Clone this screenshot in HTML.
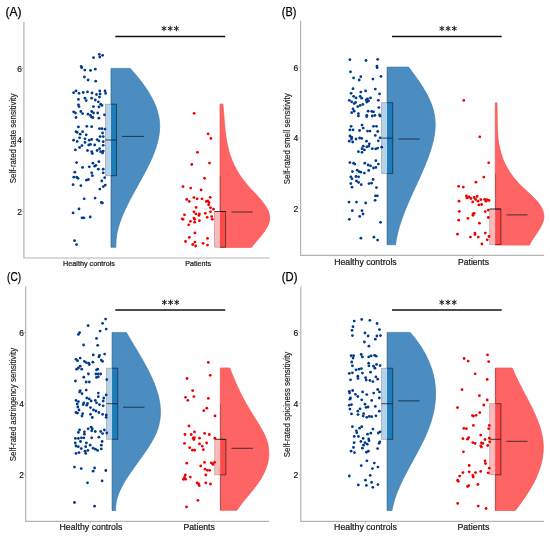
<!DOCTYPE html>
<html><head><meta charset="utf-8"><style>
html,body{margin:0;padding:0;background:#fff;}
svg{display:block;font-family:"Liberation Sans", sans-serif;will-change:transform;}
#wrap{width:550px;height:538px;}
</style></head><body>
<div id="wrap"><svg width="550" height="538" viewBox="0 0 550 538">
<rect width="550" height="538" fill="#fff"/>
<path d="M23.9,22 V258 H269.3" fill="none" stroke="#b4b4b4" stroke-width="1.2"/>
<line x1="21.9" y1="211.5" x2="23.9" y2="211.5" stroke="#b4b4b4" stroke-width="0.8"/>
<text x="21.9" y="214.7" font-size="8.4" text-anchor="end" fill="#1a1a1a" stroke="#1a1a1a" stroke-width="0.2">2</text>
<line x1="21.9" y1="140" x2="23.9" y2="140" stroke="#b4b4b4" stroke-width="0.8"/>
<text x="21.9" y="143.2" font-size="8.4" text-anchor="end" fill="#1a1a1a" stroke="#1a1a1a" stroke-width="0.2">4</text>
<line x1="21.9" y1="68.5" x2="23.9" y2="68.5" stroke="#b4b4b4" stroke-width="0.8"/>
<text x="21.9" y="71.7" font-size="8.4" text-anchor="end" fill="#1a1a1a" stroke="#1a1a1a" stroke-width="0.2">6</text>
<line x1="89" y1="258" x2="89" y2="260" stroke="#b4b4b4" stroke-width="0.8"/>
<line x1="198.3" y1="258" x2="198.3" y2="260" stroke="#b4b4b4" stroke-width="0.8"/>
<text transform="translate(16.2,138.4) rotate(-90)" font-size="8.5" text-anchor="middle" textLength="89.6" lengthAdjust="spacingAndGlyphs" fill="#1a1a1a" stroke="#1a1a1a" stroke-width="0.15">Self-rated taste sensitivity</text>
<text x="63.1" y="266" font-size="7.2" textLength="51.8" lengthAdjust="spacingAndGlyphs" fill="#1a1a1a" stroke="#1a1a1a" stroke-width="0.22">Healthy controls</text>
<text x="185.3" y="266" font-size="7.2" textLength="25.7" lengthAdjust="spacingAndGlyphs" fill="#1a1a1a" stroke="#1a1a1a" stroke-width="0.22">Patients</text>
<text x="5.5" y="16.1" font-size="12" textLength="16" lengthAdjust="spacingAndGlyphs" fill="#000" stroke="#000" stroke-width="0.25">(A)</text>
<line x1="115.3" y1="36.5" x2="225.2" y2="36.5" stroke="#111" stroke-width="1.5"/>
<path d="M164,26.2 L164,30.8 M166,27.4 L162,29.6 M162,27.4 L166,29.6 " stroke="#1a1a1a" stroke-width="1.0" stroke-linecap="round"/>
<path d="M170.2,26.2 L170.2,30.8 M172.2,27.4 L168.2,29.6 M168.2,27.4 L172.2,29.6 " stroke="#1a1a1a" stroke-width="1.0" stroke-linecap="round"/>
<path d="M176.4,26.2 L176.4,30.8 M178.4,27.4 L174.4,29.6 M174.4,27.4 L178.4,29.6 " stroke="#1a1a1a" stroke-width="1.0" stroke-linecap="round"/>
<path d="M111,68.4 L130.3,68.4 L131.6,69.9 L132.9,71.4 L134.3,72.9 L135.5,74.5 L136.8,76 L138,77.5 L139.3,79 L140.4,80.5 L141.6,82 L142.7,83.6 L143.8,85.1 L144.9,86.6 L145.9,88.1 L146.9,89.6 L147.9,91.1 L148.9,92.7 L149.8,94.2 L150.6,95.7 L151.5,97.2 L152.3,98.7 L153.1,100.2 L153.8,101.8 L154.5,103.3 L155.1,104.8 L155.7,106.3 L156.3,107.8 L156.8,109.3 L157.3,110.9 L157.7,112.4 L158.1,113.9 L158.5,115.4 L158.8,116.9 L159.1,118.4 L159.3,119.9 L159.4,121.5 L159.6,123 L159.6,124.5 L159.7,126 L159.6,127.5 L159.6,129 L159.5,130.6 L159.4,132.1 L159.2,133.6 L159,135.1 L158.7,136.6 L158.4,138.1 L158.1,139.7 L157.8,141.2 L157.4,142.7 L157,144.2 L156.5,145.7 L156.1,147.2 L155.6,148.8 L155,150.3 L154.5,151.8 L153.9,153.3 L153.3,154.8 L152.7,156.3 L152,157.9 L151.4,159.4 L150.7,160.9 L150,162.4 L149.3,163.9 L148.5,165.4 L147.8,166.9 L147,168.5 L146.2,170 L145.4,171.5 L144.6,173 L143.8,174.5 L143,176 L142.2,177.6 L141.4,179.1 L140.5,180.6 L139.7,182.1 L138.8,183.6 L138,185.1 L137.1,186.7 L136.3,188.2 L135.5,189.7 L134.6,191.2 L133.8,192.7 L133,194.2 L132.1,195.8 L131.3,197.3 L130.5,198.8 L129.7,200.3 L128.9,201.8 L128.2,203.3 L127.4,204.8 L126.7,206.4 L125.9,207.9 L125.2,209.4 L124.5,210.9 L123.8,212.4 L123.2,213.9 L122.5,215.5 L121.9,217 L121.3,218.5 L120.8,220 L120.2,221.5 L119.7,223 L119.2,224.6 L118.8,226.1 L118.3,227.6 L117.9,229.1 L117.6,230.6 L117.2,232.1 L116.9,233.7 L116.7,235.2 L116.5,236.7 L116.3,238.2 L116.1,239.7 L116,241.2 L116,242.8 L115.9,244.3 L115.9,245.8 L116,247.3 L111,247.3 Z" fill="#4b8cc1" stroke="#3b7fb3" stroke-width="0.7" stroke-linejoin="round"/>
<path d="M220,104.1 L222.8,104.1 L223,105.6 L223.1,107.1 L223.3,108.7 L223.4,110.2 L223.5,111.7 L223.7,113.2 L223.8,114.8 L223.9,116.3 L224,117.8 L224.2,119.3 L224.3,120.9 L224.4,122.4 L224.6,123.9 L224.7,125.4 L224.8,127 L225,128.5 L225.1,130 L225.3,131.5 L225.5,133.1 L225.7,134.6 L225.9,136.1 L226.1,137.6 L226.4,139.2 L226.6,140.7 L226.9,142.2 L227.2,143.7 L227.5,145.3 L227.8,146.8 L228.2,148.3 L228.6,149.8 L229,151.4 L229.5,152.9 L229.9,154.4 L230.4,155.9 L231,157.5 L231.5,159 L232.1,160.5 L232.8,162 L233.4,163.6 L234.1,165.1 L234.9,166.6 L235.7,168.1 L236.5,169.7 L237.4,171.2 L238.3,172.7 L239.2,174.2 L240.3,175.8 L241.3,177.3 L242.4,178.8 L243.6,180.3 L244.8,181.8 L246,183.4 L247.3,184.9 L248.7,186.4 L250,187.9 L251.4,189.5 L252.8,191 L254.3,192.5 L255.7,194 L257.1,195.6 L258.4,197.1 L259.8,198.6 L261.1,200.1 L262.3,201.7 L263.5,203.2 L264.6,204.7 L265.6,206.2 L266.5,207.8 L267.4,209.3 L268.1,210.8 L268.7,212.3 L269.2,213.9 L269.5,215.4 L269.7,216.9 L269.7,218.4 L269.6,220 L269.3,221.5 L268.9,223 L268.3,224.5 L267.6,226.1 L266.8,227.6 L265.9,229.1 L265,230.6 L263.9,232.2 L262.7,233.7 L261.6,235.2 L260.3,236.7 L259,238.3 L257.7,239.8 L256.4,241.3 L255.1,242.8 L253.8,244.4 L252.5,245.9 L251.3,247.4 L220,247.4 Z" fill="#ff6464" stroke="#f85050" stroke-width="0.7" stroke-linejoin="round"/>
<line x1="111.3" y1="68.5" x2="111.3" y2="104.2" stroke="rgba(40,40,40,0.22)" stroke-width="0.7"/>
<line x1="111.3" y1="175.7" x2="111.3" y2="247.2" stroke="rgba(40,40,40,0.22)" stroke-width="0.7"/>
<rect x="105.4" y="104.2" width="5.6" height="71.5" fill="#b7d1e8"/>
<rect x="111" y="104.2" width="5.6" height="71.5" fill="#1c7dbc"/>
<rect x="105.4" y="104.2" width="11.2" height="71.5" fill="none" stroke="rgba(60,60,60,0.35)" stroke-width="0.8"/>
<path d="M111,104.2 H116.6 V175.7 H111" fill="none" stroke="rgba(25,25,25,0.6)" stroke-width="0.8"/>
<line x1="105.4" y1="140" x2="116.6" y2="140" stroke="rgba(20,20,20,0.85)" stroke-width="0.9"/>
<line x1="220.3" y1="175.7" x2="220.3" y2="211.5" stroke="rgba(40,40,40,0.5)" stroke-width="0.7"/>
<rect x="214.4" y="211.5" width="5.6" height="35.7" fill="#ffb9b9"/>
<rect x="220" y="211.5" width="5.6" height="35.7" fill="#ff4a4c"/>
<rect x="214.4" y="211.5" width="11.2" height="35.7" fill="none" stroke="rgba(60,60,60,0.35)" stroke-width="0.8"/>
<path d="M220,211.5 H225.6 V247.2 H220" fill="none" stroke="rgba(25,25,25,0.6)" stroke-width="0.8"/>
<line x1="214.4" y1="211.5" x2="225.6" y2="211.5" stroke="rgba(20,20,20,0.85)" stroke-width="0.9"/>
<line x1="122" y1="136.4" x2="144" y2="136.4" stroke="rgba(15,20,30,0.72)" stroke-width="1"/>
<line x1="231.5" y1="212" x2="252.7" y2="212" stroke="rgba(15,20,30,0.72)" stroke-width="1"/>
<circle cx="93.5" cy="57.7" r="1.4" fill="#003a8c"/>
<circle cx="99.3" cy="54.4" r="1.4" fill="#003a8c"/>
<circle cx="99.8" cy="57.1" r="1.4" fill="#003a8c"/>
<circle cx="102.6" cy="55.3" r="1.4" fill="#003a8c"/>
<circle cx="81.2" cy="66.5" r="1.4" fill="#003a8c"/>
<circle cx="81.7" cy="67.7" r="1.4" fill="#003a8c"/>
<circle cx="84.8" cy="70.1" r="1.4" fill="#003a8c"/>
<circle cx="90.5" cy="70.4" r="1.4" fill="#003a8c"/>
<circle cx="95.3" cy="69.2" r="1.4" fill="#003a8c"/>
<circle cx="84.4" cy="77" r="1.4" fill="#003a8c"/>
<circle cx="88.1" cy="80" r="1.4" fill="#003a8c"/>
<circle cx="95.7" cy="81.2" r="1.4" fill="#003a8c"/>
<circle cx="73.6" cy="92.7" r="1.4" fill="#003a8c"/>
<circle cx="76" cy="90.9" r="1.4" fill="#003a8c"/>
<circle cx="79" cy="93.3" r="1.4" fill="#003a8c"/>
<circle cx="83.2" cy="92.5" r="1.4" fill="#003a8c"/>
<circle cx="87.5" cy="91.9" r="1.4" fill="#003a8c"/>
<circle cx="92" cy="93" r="1.4" fill="#003a8c"/>
<circle cx="96.5" cy="94.5" r="1.4" fill="#003a8c"/>
<circle cx="99.8" cy="90.9" r="1.4" fill="#003a8c"/>
<circle cx="100.1" cy="93.9" r="1.4" fill="#003a8c"/>
<circle cx="99.5" cy="97" r="1.4" fill="#003a8c"/>
<circle cx="105" cy="90.9" r="1.4" fill="#003a8c"/>
<circle cx="105.6" cy="93.3" r="1.4" fill="#003a8c"/>
<circle cx="78.4" cy="99.4" r="1.4" fill="#003a8c"/>
<circle cx="85" cy="98.2" r="1.4" fill="#003a8c"/>
<circle cx="86.2" cy="100.6" r="1.4" fill="#003a8c"/>
<circle cx="91.7" cy="98.2" r="1.4" fill="#003a8c"/>
<circle cx="95.3" cy="100" r="1.4" fill="#003a8c"/>
<circle cx="98.3" cy="101.8" r="1.4" fill="#003a8c"/>
<circle cx="100.7" cy="104.2" r="1.4" fill="#003a8c"/>
<circle cx="78.4" cy="104.8" r="1.4" fill="#003a8c"/>
<circle cx="79" cy="106.6" r="1.4" fill="#003a8c"/>
<circle cx="93.5" cy="106.6" r="1.4" fill="#003a8c"/>
<circle cx="98.9" cy="106.9" r="1.4" fill="#003a8c"/>
<circle cx="102" cy="105.4" r="1.4" fill="#003a8c"/>
<circle cx="73.6" cy="111.8" r="1.4" fill="#003a8c"/>
<circle cx="75.4" cy="113" r="1.4" fill="#003a8c"/>
<circle cx="76" cy="117.5" r="1.4" fill="#003a8c"/>
<circle cx="80.8" cy="111.5" r="1.4" fill="#003a8c"/>
<circle cx="82.6" cy="113.6" r="1.4" fill="#003a8c"/>
<circle cx="88" cy="114.2" r="1.4" fill="#003a8c"/>
<circle cx="90.5" cy="115.4" r="1.4" fill="#003a8c"/>
<circle cx="91.7" cy="117.2" r="1.4" fill="#003a8c"/>
<circle cx="92.9" cy="117.5" r="1.4" fill="#003a8c"/>
<circle cx="91.7" cy="111.5" r="1.4" fill="#003a8c"/>
<circle cx="93.5" cy="113" r="1.4" fill="#003a8c"/>
<circle cx="97.7" cy="113" r="1.4" fill="#003a8c"/>
<circle cx="98.9" cy="118.2" r="1.4" fill="#003a8c"/>
<circle cx="104.4" cy="114.8" r="1.4" fill="#003a8c"/>
<circle cx="78.4" cy="126.9" r="1.4" fill="#003a8c"/>
<circle cx="86.8" cy="126.3" r="1.4" fill="#003a8c"/>
<circle cx="91.7" cy="126.7" r="1.4" fill="#003a8c"/>
<circle cx="99.5" cy="128.7" r="1.4" fill="#003a8c"/>
<circle cx="102" cy="128.7" r="1.4" fill="#003a8c"/>
<circle cx="105" cy="129.1" r="1.4" fill="#003a8c"/>
<circle cx="76" cy="131.7" r="1.4" fill="#003a8c"/>
<circle cx="77.2" cy="132.4" r="1.4" fill="#003a8c"/>
<circle cx="82.6" cy="131.7" r="1.4" fill="#003a8c"/>
<circle cx="80.2" cy="134.2" r="1.4" fill="#003a8c"/>
<circle cx="86.2" cy="134.8" r="1.4" fill="#003a8c"/>
<circle cx="79.6" cy="137.8" r="1.4" fill="#003a8c"/>
<circle cx="85" cy="138.8" r="1.4" fill="#003a8c"/>
<circle cx="102.6" cy="133" r="1.4" fill="#003a8c"/>
<circle cx="100.1" cy="136.6" r="1.4" fill="#003a8c"/>
<circle cx="103.2" cy="136.6" r="1.4" fill="#003a8c"/>
<circle cx="73.6" cy="140.2" r="1.4" fill="#003a8c"/>
<circle cx="77.2" cy="141.4" r="1.4" fill="#003a8c"/>
<circle cx="89.3" cy="140.2" r="1.4" fill="#003a8c"/>
<circle cx="91.7" cy="139.4" r="1.4" fill="#003a8c"/>
<circle cx="97.1" cy="139.6" r="1.4" fill="#003a8c"/>
<circle cx="98.9" cy="140.8" r="1.4" fill="#003a8c"/>
<circle cx="103.2" cy="141.7" r="1.4" fill="#003a8c"/>
<circle cx="85" cy="142.4" r="1.4" fill="#003a8c"/>
<circle cx="82" cy="145.6" r="1.4" fill="#003a8c"/>
<circle cx="79.6" cy="147.5" r="1.4" fill="#003a8c"/>
<circle cx="75.4" cy="149.9" r="1.4" fill="#003a8c"/>
<circle cx="88.7" cy="145" r="1.4" fill="#003a8c"/>
<circle cx="90.5" cy="144.4" r="1.4" fill="#003a8c"/>
<circle cx="94.7" cy="145" r="1.4" fill="#003a8c"/>
<circle cx="103.2" cy="145.3" r="1.4" fill="#003a8c"/>
<circle cx="87.5" cy="150.5" r="1.4" fill="#003a8c"/>
<circle cx="91.7" cy="151.7" r="1.4" fill="#003a8c"/>
<circle cx="92.3" cy="153.5" r="1.4" fill="#003a8c"/>
<circle cx="97.1" cy="150.5" r="1.4" fill="#003a8c"/>
<circle cx="99.5" cy="148.7" r="1.4" fill="#003a8c"/>
<circle cx="100.7" cy="151.7" r="1.4" fill="#003a8c"/>
<circle cx="102.6" cy="152.9" r="1.4" fill="#003a8c"/>
<circle cx="103.2" cy="151.1" r="1.4" fill="#003a8c"/>
<circle cx="76.6" cy="162.6" r="1.4" fill="#003a8c"/>
<circle cx="82.6" cy="167.4" r="1.4" fill="#003a8c"/>
<circle cx="89.3" cy="166.8" r="1.4" fill="#003a8c"/>
<circle cx="92.9" cy="163.2" r="1.4" fill="#003a8c"/>
<circle cx="94.7" cy="166.2" r="1.4" fill="#003a8c"/>
<circle cx="95.9" cy="165.3" r="1.4" fill="#003a8c"/>
<circle cx="98.9" cy="161.7" r="1.4" fill="#003a8c"/>
<circle cx="98.3" cy="169.2" r="1.4" fill="#003a8c"/>
<circle cx="103.2" cy="169.2" r="1.4" fill="#003a8c"/>
<circle cx="74.8" cy="172.2" r="1.4" fill="#003a8c"/>
<circle cx="91.7" cy="172.8" r="1.4" fill="#003a8c"/>
<circle cx="103.2" cy="172.8" r="1.4" fill="#003a8c"/>
<circle cx="73.8" cy="177.2" r="1.4" fill="#003a8c"/>
<circle cx="76.8" cy="177.2" r="1.4" fill="#003a8c"/>
<circle cx="78" cy="178.3" r="1.4" fill="#003a8c"/>
<circle cx="86.4" cy="180.2" r="1.4" fill="#003a8c"/>
<circle cx="88.4" cy="179.5" r="1.4" fill="#003a8c"/>
<circle cx="92.4" cy="175.7" r="1.4" fill="#003a8c"/>
<circle cx="101.8" cy="181" r="1.4" fill="#003a8c"/>
<circle cx="104.7" cy="177.7" r="1.4" fill="#003a8c"/>
<circle cx="73.1" cy="184.7" r="1.4" fill="#003a8c"/>
<circle cx="80.9" cy="185.7" r="1.4" fill="#003a8c"/>
<circle cx="99.8" cy="189.1" r="1.4" fill="#003a8c"/>
<circle cx="103.3" cy="186.6" r="1.4" fill="#003a8c"/>
<circle cx="105.3" cy="185.1" r="1.4" fill="#003a8c"/>
<circle cx="84.2" cy="198.8" r="1.4" fill="#003a8c"/>
<circle cx="95.1" cy="198.1" r="1.4" fill="#003a8c"/>
<circle cx="101.3" cy="202.5" r="1.4" fill="#003a8c"/>
<circle cx="102.4" cy="203" r="1.4" fill="#003a8c"/>
<circle cx="79" cy="208.9" r="1.4" fill="#003a8c"/>
<circle cx="73.1" cy="212.9" r="1.4" fill="#003a8c"/>
<circle cx="82" cy="217.8" r="1.4" fill="#003a8c"/>
<circle cx="83.9" cy="217.8" r="1.4" fill="#003a8c"/>
<circle cx="90.2" cy="217" r="1.4" fill="#003a8c"/>
<circle cx="74.5" cy="240.7" r="1.4" fill="#003a8c"/>
<circle cx="76.5" cy="244.6" r="1.4" fill="#003a8c"/>
<circle cx="194.2" cy="113.3" r="1.4" fill="#ee0000"/>
<circle cx="208.1" cy="133.8" r="1.4" fill="#ee0000"/>
<circle cx="210.9" cy="138.4" r="1.4" fill="#ee0000"/>
<circle cx="197.4" cy="152.3" r="1.4" fill="#ee0000"/>
<circle cx="191.8" cy="164.5" r="1.4" fill="#ee0000"/>
<circle cx="209.5" cy="163.1" r="1.4" fill="#ee0000"/>
<circle cx="204.6" cy="178.3" r="1.4" fill="#ee0000"/>
<circle cx="183" cy="186.6" r="1.4" fill="#ee0000"/>
<circle cx="190.7" cy="188.1" r="1.4" fill="#ee0000"/>
<circle cx="201.1" cy="189.9" r="1.4" fill="#ee0000"/>
<circle cx="186.7" cy="199.5" r="1.4" fill="#ee0000"/>
<circle cx="189.3" cy="201.4" r="1.4" fill="#ee0000"/>
<circle cx="193.9" cy="197.6" r="1.4" fill="#ee0000"/>
<circle cx="197.1" cy="198.8" r="1.4" fill="#ee0000"/>
<circle cx="202" cy="198.8" r="1.4" fill="#ee0000"/>
<circle cx="210.2" cy="197.3" r="1.4" fill="#ee0000"/>
<circle cx="206.3" cy="201.4" r="1.4" fill="#ee0000"/>
<circle cx="207.8" cy="201" r="1.4" fill="#ee0000"/>
<circle cx="209" cy="202.5" r="1.4" fill="#ee0000"/>
<circle cx="208.7" cy="204.7" r="1.4" fill="#ee0000"/>
<circle cx="210.5" cy="207.7" r="1.4" fill="#ee0000"/>
<circle cx="213.5" cy="209.2" r="1.4" fill="#ee0000"/>
<circle cx="196.1" cy="207.4" r="1.4" fill="#ee0000"/>
<circle cx="193.9" cy="211.8" r="1.4" fill="#ee0000"/>
<circle cx="195.9" cy="213.9" r="1.4" fill="#ee0000"/>
<circle cx="199.4" cy="213.9" r="1.4" fill="#ee0000"/>
<circle cx="198.9" cy="215.4" r="1.4" fill="#ee0000"/>
<circle cx="205.3" cy="213.3" r="1.4" fill="#ee0000"/>
<circle cx="210.5" cy="211.8" r="1.4" fill="#ee0000"/>
<circle cx="184.5" cy="214.8" r="1.4" fill="#ee0000"/>
<circle cx="182.3" cy="218.8" r="1.4" fill="#ee0000"/>
<circle cx="183" cy="219.3" r="1.4" fill="#ee0000"/>
<circle cx="193.9" cy="218.1" r="1.4" fill="#ee0000"/>
<circle cx="194.6" cy="219.3" r="1.4" fill="#ee0000"/>
<circle cx="207.2" cy="217.3" r="1.4" fill="#ee0000"/>
<circle cx="211.7" cy="216.6" r="1.4" fill="#ee0000"/>
<circle cx="212.3" cy="219.3" r="1.4" fill="#ee0000"/>
<circle cx="190.4" cy="221.3" r="1.4" fill="#ee0000"/>
<circle cx="194.6" cy="222.2" r="1.4" fill="#ee0000"/>
<circle cx="199.4" cy="220.7" r="1.4" fill="#ee0000"/>
<circle cx="188.7" cy="224.8" r="1.4" fill="#ee0000"/>
<circle cx="194.9" cy="232.9" r="1.4" fill="#ee0000"/>
<circle cx="189.3" cy="237.4" r="1.4" fill="#ee0000"/>
<circle cx="207.5" cy="238.4" r="1.4" fill="#ee0000"/>
<circle cx="185.5" cy="241.5" r="1.4" fill="#ee0000"/>
<circle cx="194.9" cy="242.1" r="1.4" fill="#ee0000"/>
<circle cx="192.7" cy="244.5" r="1.4" fill="#ee0000"/>
<circle cx="195.6" cy="246" r="1.4" fill="#ee0000"/>
<circle cx="203.1" cy="243.3" r="1.4" fill="#ee0000"/>
<circle cx="207.5" cy="245.1" r="1.4" fill="#ee0000"/>
<path d="M300.6,20.8 V255.3 H544.2" fill="none" stroke="#b4b4b4" stroke-width="1.2"/>
<line x1="298.6" y1="209" x2="300.6" y2="209" stroke="#b4b4b4" stroke-width="0.8"/>
<text x="298.4" y="212.3" font-size="8.6" text-anchor="end" fill="#1a1a1a" stroke="#1a1a1a" stroke-width="0.2">2</text>
<line x1="298.6" y1="138.1" x2="300.6" y2="138.1" stroke="#b4b4b4" stroke-width="0.8"/>
<text x="298.4" y="141.4" font-size="8.6" text-anchor="end" fill="#1a1a1a" stroke="#1a1a1a" stroke-width="0.2">4</text>
<line x1="298.6" y1="67.2" x2="300.6" y2="67.2" stroke="#b4b4b4" stroke-width="0.8"/>
<text x="298.4" y="70.5" font-size="8.6" text-anchor="end" fill="#1a1a1a" stroke="#1a1a1a" stroke-width="0.2">6</text>
<line x1="365.1" y1="255.3" x2="365.1" y2="257.3" stroke="#b4b4b4" stroke-width="0.8"/>
<line x1="473" y1="255.3" x2="473" y2="257.3" stroke="#b4b4b4" stroke-width="0.8"/>
<text transform="translate(290,138.8) rotate(-90)" font-size="8.5" text-anchor="middle" textLength="91" lengthAdjust="spacingAndGlyphs" fill="#1a1a1a" stroke="#1a1a1a" stroke-width="0.15">Self-rated smell sensitivity</text>
<text x="334.2" y="265.2" font-size="8.7" textLength="62.5" lengthAdjust="spacingAndGlyphs" fill="#1a1a1a" stroke="#1a1a1a" stroke-width="0.22">Healthy controls</text>
<text x="458" y="265.2" font-size="8.7" textLength="31" lengthAdjust="spacingAndGlyphs" fill="#1a1a1a" stroke="#1a1a1a" stroke-width="0.22">Patients</text>
<text x="281.8" y="16.1" font-size="12" textLength="14.5" lengthAdjust="spacingAndGlyphs" fill="#000" stroke="#000" stroke-width="0.25">(B)</text>
<line x1="392" y1="36.5" x2="501.7" y2="36.5" stroke="#111" stroke-width="1.5"/>
<path d="M441.9,26.2 L441.9,30.8 M443.9,27.4 L439.9,29.6 M439.9,27.4 L443.9,29.6 " stroke="#1a1a1a" stroke-width="1.0" stroke-linecap="round"/>
<path d="M448.1,26.2 L448.1,30.8 M450.1,27.4 L446.1,29.6 M446.1,27.4 L450.1,29.6 " stroke="#1a1a1a" stroke-width="1.0" stroke-linecap="round"/>
<path d="M454.3,26.2 L454.3,30.8 M456.3,27.4 L452.3,29.6 M452.3,27.4 L456.3,29.6 " stroke="#1a1a1a" stroke-width="1.0" stroke-linecap="round"/>
<path d="M387.1,67.1 L408.6,67.1 L409.7,68.6 L410.9,70.1 L412,71.7 L413.1,73.2 L414.3,74.7 L415.4,76.2 L416.5,77.7 L417.5,79.2 L418.6,80.8 L419.6,82.3 L420.6,83.8 L421.6,85.3 L422.6,86.8 L423.5,88.4 L424.4,89.9 L425.3,91.4 L426.2,92.9 L427,94.4 L427.8,95.9 L428.5,97.5 L429.2,99 L429.9,100.5 L430.5,102 L431.2,103.5 L431.7,105 L432.2,106.6 L432.7,108.1 L433.2,109.6 L433.6,111.1 L433.9,112.6 L434.2,114.2 L434.5,115.7 L434.7,117.2 L434.9,118.7 L435,120.2 L435.1,121.7 L435.2,123.3 L435.2,124.8 L435.2,126.3 L435.1,127.8 L435,129.3 L434.9,130.9 L434.7,132.4 L434.5,133.9 L434.3,135.4 L434,136.9 L433.7,138.4 L433.4,140 L433.1,141.5 L432.7,143 L432.3,144.5 L431.9,146 L431.4,147.6 L431,149.1 L430.5,150.6 L430,152.1 L429.5,153.6 L429,155.1 L428.4,156.7 L427.9,158.2 L427.3,159.7 L426.7,161.2 L426.1,162.7 L425.5,164.2 L424.9,165.8 L424.2,167.3 L423.6,168.8 L422.9,170.3 L422.3,171.8 L421.6,173.4 L420.9,174.9 L420.3,176.4 L419.6,177.9 L418.9,179.4 L418.2,180.9 L417.5,182.5 L416.8,184 L416.1,185.5 L415.4,187 L414.7,188.5 L414,190.1 L413.3,191.6 L412.6,193.1 L411.9,194.6 L411.3,196.1 L410.6,197.6 L409.9,199.2 L409.2,200.7 L408.6,202.2 L407.9,203.7 L407.3,205.2 L406.6,206.8 L406,208.3 L405.4,209.8 L404.8,211.3 L404.2,212.8 L403.6,214.3 L403,215.9 L402.5,217.4 L401.9,218.9 L401.4,220.4 L400.9,221.9 L400.4,223.4 L399.9,225 L399.4,226.5 L399,228 L398.6,229.5 L398.2,231 L397.8,232.6 L397.4,234.1 L397.1,235.6 L396.8,237.1 L396.5,238.6 L396.2,240.1 L396,241.7 L395.8,243.2 L395.6,244.7 L387.1,244.7 Z" fill="#4b8cc1" stroke="#3b7fb3" stroke-width="0.7" stroke-linejoin="round"/>
<path d="M495.3,102.8 L496.9,102.8 L497,104.3 L497,105.9 L497.1,107.4 L497.1,108.9 L497.1,110.5 L497.1,112 L497.1,113.5 L497.2,115 L497.2,116.6 L497.2,118.1 L497.2,119.6 L497.2,121.2 L497.2,122.7 L497.3,124.2 L497.3,125.8 L497.3,127.3 L497.4,128.8 L497.5,130.3 L497.6,131.9 L497.6,133.4 L497.8,134.9 L497.9,136.5 L498,138 L498.2,139.5 L498.4,141.1 L498.6,142.6 L498.9,144.1 L499.2,145.6 L499.5,147.2 L499.8,148.7 L500.2,150.2 L500.6,151.8 L501,153.3 L501.5,154.8 L502,156.4 L502.5,157.9 L503.1,159.4 L503.7,160.9 L504.4,162.5 L505.1,164 L505.9,165.5 L506.7,167.1 L507.6,168.6 L508.5,170.1 L509.5,171.7 L510.5,173.2 L511.6,174.7 L512.7,176.2 L513.9,177.8 L515.2,179.3 L516.5,180.8 L517.9,182.4 L519.3,183.9 L520.8,185.4 L522.4,187 L524,188.5 L525.6,190 L527.2,191.5 L528.9,193.1 L530.6,194.6 L532.2,196.1 L533.8,197.7 L535.3,199.2 L536.7,200.7 L538,202.3 L539.1,203.8 L540.2,205.3 L541.1,206.8 L541.9,208.4 L542.6,209.9 L543.1,211.4 L543.5,213 L543.8,214.5 L543.9,216 L543.9,217.6 L543.7,219.1 L543.3,220.6 L542.9,222.1 L542.3,223.7 L541.6,225.2 L540.8,226.7 L539.9,228.3 L539,229.8 L538,231.3 L537,232.9 L535.9,234.4 L534.9,235.9 L533.9,237.4 L532.9,239 L531.9,240.5 L531.1,242 L530.2,243.6 L529.5,245.1 L495.3,245.1 Z" fill="#ff6464" stroke="#f85050" stroke-width="0.7" stroke-linejoin="round"/>
<line x1="387.4" y1="67.2" x2="387.4" y2="102.7" stroke="rgba(40,40,40,0.22)" stroke-width="0.7"/>
<line x1="387.4" y1="173.6" x2="387.4" y2="244.5" stroke="rgba(40,40,40,0.22)" stroke-width="0.7"/>
<rect x="381.5" y="102.7" width="5.6" height="70.9" fill="#b7d1e8"/>
<rect x="387.1" y="102.7" width="5.6" height="70.9" fill="#1c7dbc"/>
<rect x="381.5" y="102.7" width="11.2" height="70.9" fill="none" stroke="rgba(60,60,60,0.35)" stroke-width="0.8"/>
<path d="M387.1,102.7 H392.7 V173.6 H387.1" fill="none" stroke="rgba(25,25,25,0.6)" stroke-width="0.8"/>
<line x1="381.5" y1="138.1" x2="392.7" y2="138.1" stroke="rgba(20,20,20,0.85)" stroke-width="0.9"/>
<line x1="495.6" y1="173.6" x2="495.6" y2="209" stroke="rgba(40,40,40,0.5)" stroke-width="0.7"/>
<rect x="489.7" y="209" width="5.6" height="35.5" fill="#ffb9b9"/>
<rect x="495.3" y="209" width="5.6" height="35.5" fill="#ff4a4c"/>
<rect x="489.7" y="209" width="11.2" height="35.5" fill="none" stroke="rgba(60,60,60,0.35)" stroke-width="0.8"/>
<path d="M495.3,209 H500.9 V244.5 H495.3" fill="none" stroke="rgba(25,25,25,0.6)" stroke-width="0.8"/>
<line x1="489.7" y1="209" x2="500.9" y2="209" stroke="rgba(20,20,20,0.85)" stroke-width="0.9"/>
<line x1="398.5" y1="139" x2="419.5" y2="139" stroke="rgba(15,20,30,0.72)" stroke-width="1"/>
<line x1="506.4" y1="214.9" x2="527.5" y2="214.9" stroke="rgba(15,20,30,0.72)" stroke-width="1"/>
<circle cx="349.9" cy="59.7" r="1.4" fill="#003a8c"/>
<circle cx="366" cy="60.5" r="1.4" fill="#003a8c"/>
<circle cx="377.7" cy="59.3" r="1.4" fill="#003a8c"/>
<circle cx="376.9" cy="66.1" r="1.4" fill="#003a8c"/>
<circle cx="377.1" cy="67.7" r="1.4" fill="#003a8c"/>
<circle cx="350.5" cy="71.8" r="1.4" fill="#003a8c"/>
<circle cx="353.6" cy="77.9" r="1.4" fill="#003a8c"/>
<circle cx="360.8" cy="76.7" r="1.4" fill="#003a8c"/>
<circle cx="359.2" cy="80" r="1.4" fill="#003a8c"/>
<circle cx="372.9" cy="79.1" r="1.4" fill="#003a8c"/>
<circle cx="381" cy="76.4" r="1.4" fill="#003a8c"/>
<circle cx="353" cy="88.7" r="1.4" fill="#003a8c"/>
<circle cx="360.8" cy="92.1" r="1.4" fill="#003a8c"/>
<circle cx="365.6" cy="90.9" r="1.4" fill="#003a8c"/>
<circle cx="375.3" cy="89.1" r="1.4" fill="#003a8c"/>
<circle cx="379.5" cy="93.9" r="1.4" fill="#003a8c"/>
<circle cx="351.1" cy="93.3" r="1.4" fill="#003a8c"/>
<circle cx="353.6" cy="96.3" r="1.4" fill="#003a8c"/>
<circle cx="356" cy="97.9" r="1.4" fill="#003a8c"/>
<circle cx="360.2" cy="96.3" r="1.4" fill="#003a8c"/>
<circle cx="361.7" cy="98.2" r="1.4" fill="#003a8c"/>
<circle cx="349.3" cy="100.3" r="1.4" fill="#003a8c"/>
<circle cx="351.7" cy="101.8" r="1.4" fill="#003a8c"/>
<circle cx="354.2" cy="103.6" r="1.4" fill="#003a8c"/>
<circle cx="355.6" cy="102.4" r="1.4" fill="#003a8c"/>
<circle cx="366.2" cy="100" r="1.4" fill="#003a8c"/>
<circle cx="367.5" cy="98.8" r="1.4" fill="#003a8c"/>
<circle cx="370.5" cy="97.9" r="1.4" fill="#003a8c"/>
<circle cx="366.8" cy="102" r="1.4" fill="#003a8c"/>
<circle cx="378.3" cy="100.3" r="1.4" fill="#003a8c"/>
<circle cx="357.8" cy="106.6" r="1.4" fill="#003a8c"/>
<circle cx="360.2" cy="105.4" r="1.4" fill="#003a8c"/>
<circle cx="362.9" cy="104.4" r="1.4" fill="#003a8c"/>
<circle cx="353" cy="109" r="1.4" fill="#003a8c"/>
<circle cx="378.9" cy="107.6" r="1.4" fill="#003a8c"/>
<circle cx="368.5" cy="101" r="1.4" fill="#003a8c"/>
<circle cx="351.7" cy="112.7" r="1.4" fill="#003a8c"/>
<circle cx="354.2" cy="111.2" r="1.4" fill="#003a8c"/>
<circle cx="358.4" cy="113.6" r="1.4" fill="#003a8c"/>
<circle cx="358.4" cy="116" r="1.4" fill="#003a8c"/>
<circle cx="366.8" cy="115.4" r="1.4" fill="#003a8c"/>
<circle cx="366.8" cy="116.6" r="1.4" fill="#003a8c"/>
<circle cx="368.1" cy="111.2" r="1.4" fill="#003a8c"/>
<circle cx="371.7" cy="111.4" r="1.4" fill="#003a8c"/>
<circle cx="373.5" cy="111.8" r="1.4" fill="#003a8c"/>
<circle cx="372.3" cy="116" r="1.4" fill="#003a8c"/>
<circle cx="374.9" cy="115.4" r="1.4" fill="#003a8c"/>
<circle cx="379.5" cy="114.8" r="1.4" fill="#003a8c"/>
<circle cx="380.1" cy="116" r="1.4" fill="#003a8c"/>
<circle cx="351.1" cy="126.3" r="1.4" fill="#003a8c"/>
<circle cx="349.9" cy="129.9" r="1.4" fill="#003a8c"/>
<circle cx="353" cy="129.9" r="1.4" fill="#003a8c"/>
<circle cx="359.6" cy="130.5" r="1.4" fill="#003a8c"/>
<circle cx="362" cy="125.1" r="1.4" fill="#003a8c"/>
<circle cx="363.2" cy="128.1" r="1.4" fill="#003a8c"/>
<circle cx="367.5" cy="131.1" r="1.4" fill="#003a8c"/>
<circle cx="369.9" cy="131.1" r="1.4" fill="#003a8c"/>
<circle cx="373.5" cy="126.3" r="1.4" fill="#003a8c"/>
<circle cx="376.5" cy="126.3" r="1.4" fill="#003a8c"/>
<circle cx="377.7" cy="131.5" r="1.4" fill="#003a8c"/>
<circle cx="349.9" cy="136" r="1.4" fill="#003a8c"/>
<circle cx="351.7" cy="137.2" r="1.4" fill="#003a8c"/>
<circle cx="356" cy="139" r="1.4" fill="#003a8c"/>
<circle cx="359.6" cy="138" r="1.4" fill="#003a8c"/>
<circle cx="361.7" cy="138.4" r="1.4" fill="#003a8c"/>
<circle cx="349.3" cy="141.2" r="1.4" fill="#003a8c"/>
<circle cx="352.7" cy="142" r="1.4" fill="#003a8c"/>
<circle cx="351.5" cy="139" r="1.4" fill="#003a8c"/>
<circle cx="375.3" cy="135.4" r="1.4" fill="#003a8c"/>
<circle cx="380.1" cy="137.8" r="1.4" fill="#003a8c"/>
<circle cx="378.3" cy="140.8" r="1.4" fill="#003a8c"/>
<circle cx="366.5" cy="141.2" r="1.4" fill="#003a8c"/>
<circle cx="369.3" cy="143.8" r="1.4" fill="#003a8c"/>
<circle cx="368.7" cy="146.2" r="1.4" fill="#003a8c"/>
<circle cx="366.8" cy="146.8" r="1.4" fill="#003a8c"/>
<circle cx="363.2" cy="146.2" r="1.4" fill="#003a8c"/>
<circle cx="362" cy="148.7" r="1.4" fill="#003a8c"/>
<circle cx="364.4" cy="149.9" r="1.4" fill="#003a8c"/>
<circle cx="358.4" cy="151.7" r="1.4" fill="#003a8c"/>
<circle cx="362" cy="152.3" r="1.4" fill="#003a8c"/>
<circle cx="372.3" cy="148.7" r="1.4" fill="#003a8c"/>
<circle cx="375.7" cy="148.9" r="1.4" fill="#003a8c"/>
<circle cx="377.7" cy="148.1" r="1.4" fill="#003a8c"/>
<circle cx="381.7" cy="147.2" r="1.4" fill="#003a8c"/>
<circle cx="349.9" cy="162.6" r="1.4" fill="#003a8c"/>
<circle cx="353.6" cy="163.2" r="1.4" fill="#003a8c"/>
<circle cx="354.8" cy="164.1" r="1.4" fill="#003a8c"/>
<circle cx="364.8" cy="163.2" r="1.4" fill="#003a8c"/>
<circle cx="368.1" cy="165" r="1.4" fill="#003a8c"/>
<circle cx="370.5" cy="165.8" r="1.4" fill="#003a8c"/>
<circle cx="373.5" cy="168" r="1.4" fill="#003a8c"/>
<circle cx="375.9" cy="167.4" r="1.4" fill="#003a8c"/>
<circle cx="375.9" cy="160.7" r="1.4" fill="#003a8c"/>
<circle cx="378.3" cy="164.1" r="1.4" fill="#003a8c"/>
<circle cx="352.4" cy="171.6" r="1.4" fill="#003a8c"/>
<circle cx="357.2" cy="170.2" r="1.4" fill="#003a8c"/>
<circle cx="359" cy="171.6" r="1.4" fill="#003a8c"/>
<circle cx="360.8" cy="172.2" r="1.4" fill="#003a8c"/>
<circle cx="364.4" cy="173.1" r="1.4" fill="#003a8c"/>
<circle cx="368.7" cy="170.4" r="1.4" fill="#003a8c"/>
<circle cx="350.8" cy="176.8" r="1.4" fill="#003a8c"/>
<circle cx="352" cy="178.7" r="1.4" fill="#003a8c"/>
<circle cx="356" cy="176.5" r="1.4" fill="#003a8c"/>
<circle cx="358.6" cy="176.8" r="1.4" fill="#003a8c"/>
<circle cx="356.5" cy="181" r="1.4" fill="#003a8c"/>
<circle cx="358.6" cy="182.4" r="1.4" fill="#003a8c"/>
<circle cx="361.2" cy="184.7" r="1.4" fill="#003a8c"/>
<circle cx="350.8" cy="183.6" r="1.4" fill="#003a8c"/>
<circle cx="352" cy="187.2" r="1.4" fill="#003a8c"/>
<circle cx="369" cy="183.6" r="1.4" fill="#003a8c"/>
<circle cx="371.6" cy="183.2" r="1.4" fill="#003a8c"/>
<circle cx="373.1" cy="179.5" r="1.4" fill="#003a8c"/>
<circle cx="376.4" cy="187.6" r="1.4" fill="#003a8c"/>
<circle cx="375.4" cy="195.8" r="1.4" fill="#003a8c"/>
<circle cx="377.3" cy="195.8" r="1.4" fill="#003a8c"/>
<circle cx="375.1" cy="200.3" r="1.4" fill="#003a8c"/>
<circle cx="349" cy="202.1" r="1.4" fill="#003a8c"/>
<circle cx="356.5" cy="202.1" r="1.4" fill="#003a8c"/>
<circle cx="365.7" cy="203" r="1.4" fill="#003a8c"/>
<circle cx="352.3" cy="210.7" r="1.4" fill="#003a8c"/>
<circle cx="362" cy="210.7" r="1.4" fill="#003a8c"/>
<circle cx="363" cy="214" r="1.4" fill="#003a8c"/>
<circle cx="359.7" cy="216.4" r="1.4" fill="#003a8c"/>
<circle cx="349.3" cy="219.3" r="1.4" fill="#003a8c"/>
<circle cx="380.6" cy="222.3" r="1.4" fill="#003a8c"/>
<circle cx="360.9" cy="238.2" r="1.4" fill="#003a8c"/>
<circle cx="373.9" cy="237.2" r="1.4" fill="#003a8c"/>
<circle cx="377.6" cy="240.1" r="1.4" fill="#003a8c"/>
<circle cx="463.8" cy="100.4" r="1.4" fill="#ee0000"/>
<circle cx="479.8" cy="136.8" r="1.4" fill="#ee0000"/>
<circle cx="488.7" cy="162.8" r="1.4" fill="#ee0000"/>
<circle cx="483.8" cy="177.1" r="1.4" fill="#ee0000"/>
<circle cx="475.9" cy="182.2" r="1.4" fill="#ee0000"/>
<circle cx="458.6" cy="186.3" r="1.4" fill="#ee0000"/>
<circle cx="463.3" cy="187.1" r="1.4" fill="#ee0000"/>
<circle cx="466.4" cy="196" r="1.4" fill="#ee0000"/>
<circle cx="467" cy="197.9" r="1.4" fill="#ee0000"/>
<circle cx="469" cy="197" r="1.4" fill="#ee0000"/>
<circle cx="470.9" cy="198.5" r="1.4" fill="#ee0000"/>
<circle cx="474.2" cy="197.5" r="1.4" fill="#ee0000"/>
<circle cx="477.1" cy="196.4" r="1.4" fill="#ee0000"/>
<circle cx="475.6" cy="199.4" r="1.4" fill="#ee0000"/>
<circle cx="477.9" cy="201.2" r="1.4" fill="#ee0000"/>
<circle cx="472.7" cy="201.9" r="1.4" fill="#ee0000"/>
<circle cx="480.8" cy="199.7" r="1.4" fill="#ee0000"/>
<circle cx="484.6" cy="199.4" r="1.4" fill="#ee0000"/>
<circle cx="486.8" cy="199.7" r="1.4" fill="#ee0000"/>
<circle cx="486" cy="201.2" r="1.4" fill="#ee0000"/>
<circle cx="489" cy="200.4" r="1.4" fill="#ee0000"/>
<circle cx="478.9" cy="204.9" r="1.4" fill="#ee0000"/>
<circle cx="481.6" cy="204.5" r="1.4" fill="#ee0000"/>
<circle cx="459" cy="201.2" r="1.4" fill="#ee0000"/>
<circle cx="459.3" cy="211.3" r="1.4" fill="#ee0000"/>
<circle cx="473" cy="213.8" r="1.4" fill="#ee0000"/>
<circle cx="474.2" cy="213.4" r="1.4" fill="#ee0000"/>
<circle cx="473" cy="215.3" r="1.4" fill="#ee0000"/>
<circle cx="467.9" cy="218.3" r="1.4" fill="#ee0000"/>
<circle cx="485.3" cy="211.6" r="1.4" fill="#ee0000"/>
<circle cx="488.3" cy="210.1" r="1.4" fill="#ee0000"/>
<circle cx="488.3" cy="217.5" r="1.4" fill="#ee0000"/>
<circle cx="458.6" cy="220.2" r="1.4" fill="#ee0000"/>
<circle cx="479.4" cy="223.2" r="1.4" fill="#ee0000"/>
<circle cx="457.5" cy="234.2" r="1.4" fill="#ee0000"/>
<circle cx="474.9" cy="233.1" r="1.4" fill="#ee0000"/>
<circle cx="474.9" cy="234.6" r="1.4" fill="#ee0000"/>
<circle cx="470.4" cy="237.1" r="1.4" fill="#ee0000"/>
<circle cx="478.3" cy="237.1" r="1.4" fill="#ee0000"/>
<circle cx="485.3" cy="233.1" r="1.4" fill="#ee0000"/>
<circle cx="489" cy="236.5" r="1.4" fill="#ee0000"/>
<circle cx="487.2" cy="239.8" r="1.4" fill="#ee0000"/>
<circle cx="481.9" cy="244" r="1.4" fill="#ee0000"/>
<path d="M25.7,286.5 V521.3 H269.3" fill="none" stroke="#b4b4b4" stroke-width="1.2"/>
<line x1="23.7" y1="474.8" x2="25.7" y2="474.8" stroke="#b4b4b4" stroke-width="0.8"/>
<text x="23.9" y="478" font-size="8.4" text-anchor="end" fill="#1a1a1a" stroke="#1a1a1a" stroke-width="0.2">2</text>
<line x1="23.7" y1="403.7" x2="25.7" y2="403.7" stroke="#b4b4b4" stroke-width="0.8"/>
<text x="23.9" y="406.9" font-size="8.4" text-anchor="end" fill="#1a1a1a" stroke="#1a1a1a" stroke-width="0.2">4</text>
<line x1="23.7" y1="332.6" x2="25.7" y2="332.6" stroke="#b4b4b4" stroke-width="0.8"/>
<text x="23.9" y="335.8" font-size="8.4" text-anchor="end" fill="#1a1a1a" stroke="#1a1a1a" stroke-width="0.2">6</text>
<line x1="90.4" y1="521.3" x2="90.4" y2="523.3" stroke="#b4b4b4" stroke-width="0.8"/>
<line x1="199" y1="521.3" x2="199" y2="523.3" stroke="#b4b4b4" stroke-width="0.8"/>
<text transform="translate(16.4,404.5) rotate(-90)" font-size="8.5" text-anchor="middle" textLength="113.4" lengthAdjust="spacingAndGlyphs" fill="#1a1a1a" stroke="#1a1a1a" stroke-width="0.15">Self-rated astringency sensitivity</text>
<text x="59.5" y="530.4" font-size="8.7" textLength="62.8" lengthAdjust="spacingAndGlyphs" fill="#1a1a1a" stroke="#1a1a1a" stroke-width="0.22">Healthy controls</text>
<text x="183.4" y="530.4" font-size="8.7" textLength="31.5" lengthAdjust="spacingAndGlyphs" fill="#1a1a1a" stroke="#1a1a1a" stroke-width="0.22">Patients</text>
<text x="7.1" y="281.4" font-size="12" textLength="14" lengthAdjust="spacingAndGlyphs" fill="#000" stroke="#000" stroke-width="0.25">(C)</text>
<line x1="115.3" y1="310" x2="225.2" y2="310" stroke="#111" stroke-width="1.5"/>
<path d="M164.4,300.1 L164.4,304.7 M166.4,301.2 L162.4,303.5 M162.4,301.2 L166.4,303.5 " stroke="#1a1a1a" stroke-width="1.0" stroke-linecap="round"/>
<path d="M170.6,300.1 L170.6,304.7 M172.6,301.2 L168.6,303.5 M168.6,301.2 L172.6,303.5 " stroke="#1a1a1a" stroke-width="1.0" stroke-linecap="round"/>
<path d="M176.8,300.1 L176.8,304.7 M178.8,301.2 L174.8,303.5 M174.8,301.2 L178.8,303.5 " stroke="#1a1a1a" stroke-width="1.0" stroke-linecap="round"/>
<path d="M112.1,332.6 L126.4,332.6 L127.3,334.1 L128.2,335.6 L129.1,337.2 L130,338.7 L130.9,340.2 L131.8,341.7 L132.7,343.2 L133.6,344.8 L134.5,346.3 L135.5,347.8 L136.4,349.3 L137.3,350.8 L138.2,352.4 L139.1,353.9 L140,355.4 L140.8,356.9 L141.7,358.4 L142.6,360 L143.5,361.5 L144.3,363 L145.1,364.5 L146,366.1 L146.8,367.6 L147.6,369.1 L148.4,370.6 L149.1,372.1 L149.9,373.7 L150.6,375.2 L151.3,376.7 L152,378.2 L152.7,379.7 L153.3,381.3 L154,382.8 L154.6,384.3 L155.1,385.8 L155.7,387.3 L156.2,388.9 L156.7,390.4 L157.2,391.9 L157.6,393.4 L158.1,394.9 L158.5,396.5 L158.8,398 L159.1,399.5 L159.4,401 L159.7,402.5 L159.9,404.1 L160.1,405.6 L160.2,407.1 L160.3,408.6 L160.4,410.1 L160.4,411.7 L160.4,413.2 L160.4,414.7 L160.3,416.2 L160.1,417.7 L159.9,419.3 L159.7,420.8 L159.4,422.3 L159.1,423.8 L158.8,425.4 L158.3,426.9 L157.9,428.4 L157.3,429.9 L156.8,431.4 L156.2,433 L155.5,434.5 L154.8,436 L154,437.5 L153.2,439 L152.4,440.6 L151.5,442.1 L150.6,443.6 L149.7,445.1 L148.8,446.6 L147.8,448.2 L146.8,449.7 L145.7,451.2 L144.7,452.7 L143.7,454.2 L142.6,455.8 L141.5,457.3 L140.4,458.8 L139.3,460.3 L138.2,461.8 L137.1,463.4 L136,464.9 L134.9,466.4 L133.8,467.9 L132.8,469.4 L131.7,471 L130.6,472.5 L129.6,474 L128.6,475.5 L127.6,477 L126.6,478.6 L125.6,480.1 L124.7,481.6 L123.8,483.1 L123,484.7 L122.1,486.2 L121.4,487.7 L120.6,489.2 L119.9,490.7 L119.2,492.3 L118.6,493.8 L118.1,495.3 L117.6,496.8 L117.1,498.3 L116.7,499.9 L116.4,501.4 L116.1,502.9 L115.9,504.4 L115.7,505.9 L115.6,507.5 L115.6,509 L115.7,510.5 L112.1,510.5 Z" fill="#4b8cc1" stroke="#3b7fb3" stroke-width="0.7" stroke-linejoin="round"/>
<path d="M220.3,368 L229.8,368 L230.4,369.5 L230.9,371.1 L231.5,372.6 L232.1,374.1 L232.7,375.7 L233.4,377.2 L234,378.7 L234.7,380.2 L235.3,381.8 L236,383.3 L236.7,384.8 L237.4,386.4 L238.1,387.9 L238.8,389.4 L239.5,391 L240.3,392.5 L241,394 L241.8,395.5 L242.6,397.1 L243.4,398.6 L244.2,400.1 L245.1,401.7 L245.9,403.2 L246.8,404.7 L247.7,406.3 L248.6,407.8 L249.5,409.3 L250.4,410.8 L251.3,412.4 L252.3,413.9 L253.2,415.4 L254.2,417 L255.2,418.5 L256.1,420 L257.1,421.6 L258.1,423.1 L259,424.6 L259.9,426.1 L260.8,427.7 L261.7,429.2 L262.5,430.7 L263.3,432.3 L264.1,433.8 L264.8,435.3 L265.4,436.9 L266,438.4 L266.6,439.9 L267.1,441.4 L267.5,443 L267.9,444.5 L268.2,446 L268.4,447.6 L268.6,449.1 L268.7,450.6 L268.8,452.2 L268.8,453.7 L268.8,455.2 L268.7,456.7 L268.5,458.3 L268.3,459.8 L268,461.3 L267.7,462.9 L267.3,464.4 L266.8,465.9 L266.3,467.5 L265.8,469 L265.1,470.5 L264.5,472 L263.7,473.6 L263,475.1 L262.1,476.6 L261.3,478.2 L260.3,479.7 L259.3,481.2 L258.3,482.8 L257.2,484.3 L256.1,485.8 L254.9,487.3 L253.7,488.9 L252.5,490.4 L251.2,491.9 L250,493.5 L248.7,495 L247.5,496.5 L246.2,498.1 L245,499.6 L243.7,501.1 L242.5,502.6 L241.3,504.2 L240.1,505.7 L239,507.2 L237.9,508.8 L236.9,510.3 L220.3,510.3 Z" fill="#ff6464" stroke="#f85050" stroke-width="0.7" stroke-linejoin="round"/>
<line x1="112.4" y1="332.6" x2="112.4" y2="368.2" stroke="rgba(40,40,40,0.22)" stroke-width="0.7"/>
<line x1="112.4" y1="439.3" x2="112.4" y2="510.4" stroke="rgba(40,40,40,0.22)" stroke-width="0.7"/>
<rect x="106.5" y="368.2" width="5.6" height="71.1" fill="#b7d1e8"/>
<rect x="112.1" y="368.2" width="5.6" height="71.1" fill="#1c7dbc"/>
<rect x="106.5" y="368.2" width="11.2" height="71.1" fill="none" stroke="rgba(60,60,60,0.35)" stroke-width="0.8"/>
<path d="M112.1,368.2 H117.7 V439.3 H112.1" fill="none" stroke="rgba(25,25,25,0.6)" stroke-width="0.8"/>
<line x1="106.5" y1="403.7" x2="117.7" y2="403.7" stroke="rgba(20,20,20,0.85)" stroke-width="0.9"/>
<line x1="220.6" y1="403.7" x2="220.6" y2="439.3" stroke="rgba(40,40,40,0.5)" stroke-width="0.7"/>
<line x1="220.6" y1="474.8" x2="220.6" y2="510.4" stroke="rgba(40,40,40,0.5)" stroke-width="0.7"/>
<rect x="214.7" y="439.3" width="5.6" height="35.6" fill="#ffb9b9"/>
<rect x="220.3" y="439.3" width="5.6" height="35.6" fill="#ff4a4c"/>
<rect x="214.7" y="439.3" width="11.2" height="35.6" fill="none" stroke="rgba(60,60,60,0.35)" stroke-width="0.8"/>
<path d="M220.3,439.3 H225.9 V474.8 H220.3" fill="none" stroke="rgba(25,25,25,0.6)" stroke-width="0.8"/>
<line x1="214.7" y1="439.3" x2="225.9" y2="439.3" stroke="rgba(20,20,20,0.85)" stroke-width="0.9"/>
<line x1="123.1" y1="407.2" x2="144.5" y2="407.2" stroke="rgba(15,20,30,0.72)" stroke-width="1"/>
<line x1="231.4" y1="448.3" x2="252.9" y2="448.3" stroke="rgba(15,20,30,0.72)" stroke-width="1"/>
<circle cx="105.6" cy="319.1" r="1.4" fill="#003a8c"/>
<circle cx="102.6" cy="323.3" r="1.4" fill="#003a8c"/>
<circle cx="88.1" cy="325.7" r="1.4" fill="#003a8c"/>
<circle cx="106.2" cy="329.1" r="1.4" fill="#003a8c"/>
<circle cx="100.1" cy="331.1" r="1.4" fill="#003a8c"/>
<circle cx="79.6" cy="332.7" r="1.4" fill="#003a8c"/>
<circle cx="78.4" cy="334.4" r="1.4" fill="#003a8c"/>
<circle cx="96.5" cy="338.4" r="1.4" fill="#003a8c"/>
<circle cx="83.6" cy="345" r="1.4" fill="#003a8c"/>
<circle cx="97.7" cy="345.3" r="1.4" fill="#003a8c"/>
<circle cx="93.3" cy="354.9" r="1.4" fill="#003a8c"/>
<circle cx="99.5" cy="355.3" r="1.4" fill="#003a8c"/>
<circle cx="98.9" cy="356.9" r="1.4" fill="#003a8c"/>
<circle cx="104.6" cy="354.1" r="1.4" fill="#003a8c"/>
<circle cx="76" cy="359.3" r="1.4" fill="#003a8c"/>
<circle cx="77.5" cy="360.7" r="1.4" fill="#003a8c"/>
<circle cx="80.2" cy="358.1" r="1.4" fill="#003a8c"/>
<circle cx="84.4" cy="361.3" r="1.4" fill="#003a8c"/>
<circle cx="86.2" cy="362.6" r="1.4" fill="#003a8c"/>
<circle cx="88.7" cy="363.2" r="1.4" fill="#003a8c"/>
<circle cx="89.3" cy="364.6" r="1.4" fill="#003a8c"/>
<circle cx="92.9" cy="362.2" r="1.4" fill="#003a8c"/>
<circle cx="101.3" cy="360.1" r="1.4" fill="#003a8c"/>
<circle cx="102.6" cy="361.3" r="1.4" fill="#003a8c"/>
<circle cx="76.6" cy="369.2" r="1.4" fill="#003a8c"/>
<circle cx="78.4" cy="368" r="1.4" fill="#003a8c"/>
<circle cx="80.2" cy="366.2" r="1.4" fill="#003a8c"/>
<circle cx="81.7" cy="369.2" r="1.4" fill="#003a8c"/>
<circle cx="96.5" cy="369.8" r="1.4" fill="#003a8c"/>
<circle cx="97.7" cy="369.2" r="1.4" fill="#003a8c"/>
<circle cx="88.4" cy="374" r="1.4" fill="#003a8c"/>
<circle cx="95.9" cy="374" r="1.4" fill="#003a8c"/>
<circle cx="98.3" cy="374" r="1.4" fill="#003a8c"/>
<circle cx="100.7" cy="374" r="1.4" fill="#003a8c"/>
<circle cx="83.8" cy="377.2" r="1.4" fill="#003a8c"/>
<circle cx="96.5" cy="377.4" r="1.4" fill="#003a8c"/>
<circle cx="98.3" cy="376.8" r="1.4" fill="#003a8c"/>
<circle cx="75.4" cy="381" r="1.4" fill="#003a8c"/>
<circle cx="86.2" cy="382" r="1.4" fill="#003a8c"/>
<circle cx="89.3" cy="382" r="1.4" fill="#003a8c"/>
<circle cx="106.8" cy="379.6" r="1.4" fill="#003a8c"/>
<circle cx="80.2" cy="390.7" r="1.4" fill="#003a8c"/>
<circle cx="79.6" cy="391.9" r="1.4" fill="#003a8c"/>
<circle cx="82" cy="393.7" r="1.4" fill="#003a8c"/>
<circle cx="86.2" cy="390.1" r="1.4" fill="#003a8c"/>
<circle cx="98.3" cy="393.1" r="1.4" fill="#003a8c"/>
<circle cx="98.3" cy="396.7" r="1.4" fill="#003a8c"/>
<circle cx="106.2" cy="394.9" r="1.4" fill="#003a8c"/>
<circle cx="103.8" cy="398" r="1.4" fill="#003a8c"/>
<circle cx="86.8" cy="398" r="1.4" fill="#003a8c"/>
<circle cx="89.3" cy="398.9" r="1.4" fill="#003a8c"/>
<circle cx="91.1" cy="401" r="1.4" fill="#003a8c"/>
<circle cx="76" cy="400.4" r="1.4" fill="#003a8c"/>
<circle cx="78.4" cy="401.6" r="1.4" fill="#003a8c"/>
<circle cx="77.2" cy="404" r="1.4" fill="#003a8c"/>
<circle cx="83.8" cy="402.8" r="1.4" fill="#003a8c"/>
<circle cx="83.2" cy="404.6" r="1.4" fill="#003a8c"/>
<circle cx="87.5" cy="403.4" r="1.4" fill="#003a8c"/>
<circle cx="86.8" cy="405.2" r="1.4" fill="#003a8c"/>
<circle cx="95.3" cy="400.4" r="1.4" fill="#003a8c"/>
<circle cx="96.5" cy="402.8" r="1.4" fill="#003a8c"/>
<circle cx="99.5" cy="404.6" r="1.4" fill="#003a8c"/>
<circle cx="103.2" cy="401" r="1.4" fill="#003a8c"/>
<circle cx="103.2" cy="405.8" r="1.4" fill="#003a8c"/>
<circle cx="77.8" cy="407" r="1.4" fill="#003a8c"/>
<circle cx="79" cy="410" r="1.4" fill="#003a8c"/>
<circle cx="90.5" cy="407.6" r="1.4" fill="#003a8c"/>
<circle cx="93.5" cy="410" r="1.4" fill="#003a8c"/>
<circle cx="95.9" cy="411" r="1.4" fill="#003a8c"/>
<circle cx="76" cy="412.5" r="1.4" fill="#003a8c"/>
<circle cx="77.5" cy="413.1" r="1.4" fill="#003a8c"/>
<circle cx="82.6" cy="413.7" r="1.4" fill="#003a8c"/>
<circle cx="82" cy="416.1" r="1.4" fill="#003a8c"/>
<circle cx="90.5" cy="414.3" r="1.4" fill="#003a8c"/>
<circle cx="98.9" cy="412.5" r="1.4" fill="#003a8c"/>
<circle cx="102.6" cy="414.3" r="1.4" fill="#003a8c"/>
<circle cx="106.2" cy="414.9" r="1.4" fill="#003a8c"/>
<circle cx="92.3" cy="417.5" r="1.4" fill="#003a8c"/>
<circle cx="106.2" cy="417.3" r="1.4" fill="#003a8c"/>
<circle cx="79.6" cy="430" r="1.4" fill="#003a8c"/>
<circle cx="78.4" cy="432.4" r="1.4" fill="#003a8c"/>
<circle cx="84.4" cy="431.8" r="1.4" fill="#003a8c"/>
<circle cx="84.4" cy="434.2" r="1.4" fill="#003a8c"/>
<circle cx="88.1" cy="428.8" r="1.4" fill="#003a8c"/>
<circle cx="91.1" cy="427.2" r="1.4" fill="#003a8c"/>
<circle cx="92.3" cy="428.8" r="1.4" fill="#003a8c"/>
<circle cx="91.7" cy="430.8" r="1.4" fill="#003a8c"/>
<circle cx="95.3" cy="431.5" r="1.4" fill="#003a8c"/>
<circle cx="100.7" cy="431.5" r="1.4" fill="#003a8c"/>
<circle cx="102.6" cy="433.6" r="1.4" fill="#003a8c"/>
<circle cx="104.4" cy="430" r="1.4" fill="#003a8c"/>
<circle cx="106.8" cy="433" r="1.4" fill="#003a8c"/>
<circle cx="75.4" cy="438.4" r="1.4" fill="#003a8c"/>
<circle cx="78.4" cy="438.4" r="1.4" fill="#003a8c"/>
<circle cx="81.4" cy="437.8" r="1.4" fill="#003a8c"/>
<circle cx="83.8" cy="437.8" r="1.4" fill="#003a8c"/>
<circle cx="91.7" cy="437.8" r="1.4" fill="#003a8c"/>
<circle cx="98.9" cy="437.2" r="1.4" fill="#003a8c"/>
<circle cx="75.3" cy="443" r="1.4" fill="#003a8c"/>
<circle cx="76" cy="446" r="1.4" fill="#003a8c"/>
<circle cx="78.3" cy="446.7" r="1.4" fill="#003a8c"/>
<circle cx="80.5" cy="441.5" r="1.4" fill="#003a8c"/>
<circle cx="81.2" cy="448.6" r="1.4" fill="#003a8c"/>
<circle cx="86.4" cy="443" r="1.4" fill="#003a8c"/>
<circle cx="85.7" cy="446.7" r="1.4" fill="#003a8c"/>
<circle cx="90.2" cy="445.2" r="1.4" fill="#003a8c"/>
<circle cx="87.9" cy="450.4" r="1.4" fill="#003a8c"/>
<circle cx="85" cy="451.2" r="1.4" fill="#003a8c"/>
<circle cx="93.1" cy="448.2" r="1.4" fill="#003a8c"/>
<circle cx="95.4" cy="449.2" r="1.4" fill="#003a8c"/>
<circle cx="97.6" cy="450.4" r="1.4" fill="#003a8c"/>
<circle cx="101.3" cy="448.9" r="1.4" fill="#003a8c"/>
<circle cx="101.3" cy="445.2" r="1.4" fill="#003a8c"/>
<circle cx="102.1" cy="441.5" r="1.4" fill="#003a8c"/>
<circle cx="76" cy="453.4" r="1.4" fill="#003a8c"/>
<circle cx="79" cy="452.6" r="1.4" fill="#003a8c"/>
<circle cx="85.7" cy="453.4" r="1.4" fill="#003a8c"/>
<circle cx="74.5" cy="467.1" r="1.4" fill="#003a8c"/>
<circle cx="81.2" cy="468.6" r="1.4" fill="#003a8c"/>
<circle cx="94.6" cy="468" r="1.4" fill="#003a8c"/>
<circle cx="93.1" cy="471.2" r="1.4" fill="#003a8c"/>
<circle cx="105.8" cy="470.5" r="1.4" fill="#003a8c"/>
<circle cx="87.5" cy="482.8" r="1.4" fill="#003a8c"/>
<circle cx="102.1" cy="480.9" r="1.4" fill="#003a8c"/>
<circle cx="74.5" cy="502.5" r="1.4" fill="#003a8c"/>
<circle cx="94.6" cy="506.2" r="1.4" fill="#003a8c"/>
<circle cx="208.3" cy="362.4" r="1.4" fill="#ee0000"/>
<circle cx="210.2" cy="375.3" r="1.4" fill="#ee0000"/>
<circle cx="187" cy="378.5" r="1.4" fill="#ee0000"/>
<circle cx="192.7" cy="390.6" r="1.4" fill="#ee0000"/>
<circle cx="185.5" cy="397.3" r="1.4" fill="#ee0000"/>
<circle cx="187.8" cy="400.3" r="1.4" fill="#ee0000"/>
<circle cx="193.9" cy="396.6" r="1.4" fill="#ee0000"/>
<circle cx="208.3" cy="398.4" r="1.4" fill="#ee0000"/>
<circle cx="206.8" cy="408.2" r="1.4" fill="#ee0000"/>
<circle cx="203.8" cy="410.7" r="1.4" fill="#ee0000"/>
<circle cx="215" cy="415.9" r="1.4" fill="#ee0000"/>
<circle cx="189" cy="426" r="1.4" fill="#ee0000"/>
<circle cx="194.5" cy="431.9" r="1.4" fill="#ee0000"/>
<circle cx="185" cy="434.5" r="1.4" fill="#ee0000"/>
<circle cx="191.2" cy="434.5" r="1.4" fill="#ee0000"/>
<circle cx="204.6" cy="433.4" r="1.4" fill="#ee0000"/>
<circle cx="209.3" cy="434.5" r="1.4" fill="#ee0000"/>
<circle cx="193.2" cy="438.2" r="1.4" fill="#ee0000"/>
<circle cx="194.4" cy="437.6" r="1.4" fill="#ee0000"/>
<circle cx="193.9" cy="439.5" r="1.4" fill="#ee0000"/>
<circle cx="199.5" cy="438.2" r="1.4" fill="#ee0000"/>
<circle cx="214.9" cy="438.2" r="1.4" fill="#ee0000"/>
<circle cx="184.5" cy="443.4" r="1.4" fill="#ee0000"/>
<circle cx="199.5" cy="443.9" r="1.4" fill="#ee0000"/>
<circle cx="206.6" cy="443" r="1.4" fill="#ee0000"/>
<circle cx="202.3" cy="446.1" r="1.4" fill="#ee0000"/>
<circle cx="189.7" cy="447.7" r="1.4" fill="#ee0000"/>
<circle cx="192.4" cy="450.2" r="1.4" fill="#ee0000"/>
<circle cx="194.7" cy="450.2" r="1.4" fill="#ee0000"/>
<circle cx="203.4" cy="449.7" r="1.4" fill="#ee0000"/>
<circle cx="186.8" cy="463.2" r="1.4" fill="#ee0000"/>
<circle cx="204.5" cy="462.4" r="1.4" fill="#ee0000"/>
<circle cx="200.7" cy="466" r="1.4" fill="#ee0000"/>
<circle cx="211.3" cy="462.8" r="1.4" fill="#ee0000"/>
<circle cx="212.9" cy="464.4" r="1.4" fill="#ee0000"/>
<circle cx="214.5" cy="462.4" r="1.4" fill="#ee0000"/>
<circle cx="205" cy="469.2" r="1.4" fill="#ee0000"/>
<circle cx="207.4" cy="470.3" r="1.4" fill="#ee0000"/>
<circle cx="209.7" cy="470.3" r="1.4" fill="#ee0000"/>
<circle cx="205.8" cy="475" r="1.4" fill="#ee0000"/>
<circle cx="185.3" cy="475" r="1.4" fill="#ee0000"/>
<circle cx="190.3" cy="477.1" r="1.4" fill="#ee0000"/>
<circle cx="184.5" cy="477.4" r="1.4" fill="#ee0000"/>
<circle cx="183.4" cy="479.3" r="1.4" fill="#ee0000"/>
<circle cx="185.6" cy="479.3" r="1.4" fill="#ee0000"/>
<circle cx="197.1" cy="482.9" r="1.4" fill="#ee0000"/>
<circle cx="199.2" cy="485.6" r="1.4" fill="#ee0000"/>
<circle cx="198.7" cy="484" r="1.4" fill="#ee0000"/>
<circle cx="205.8" cy="482.9" r="1.4" fill="#ee0000"/>
<circle cx="210.5" cy="484" r="1.4" fill="#ee0000"/>
<circle cx="197.9" cy="500.3" r="1.4" fill="#ee0000"/>
<circle cx="186.5" cy="506.9" r="1.4" fill="#ee0000"/>
<path d="M300.8,286.5 V521.3 H544.2" fill="none" stroke="#b4b4b4" stroke-width="1.2"/>
<line x1="298.8" y1="474.8" x2="300.8" y2="474.8" stroke="#b4b4b4" stroke-width="0.8"/>
<text x="298.4" y="478.1" font-size="8.6" text-anchor="end" fill="#1a1a1a" stroke="#1a1a1a" stroke-width="0.2">2</text>
<line x1="298.8" y1="403.7" x2="300.8" y2="403.7" stroke="#b4b4b4" stroke-width="0.8"/>
<text x="298.4" y="407" font-size="8.6" text-anchor="end" fill="#1a1a1a" stroke="#1a1a1a" stroke-width="0.2">4</text>
<line x1="298.8" y1="332.6" x2="300.8" y2="332.6" stroke="#b4b4b4" stroke-width="0.8"/>
<text x="298.4" y="335.9" font-size="8.6" text-anchor="end" fill="#1a1a1a" stroke="#1a1a1a" stroke-width="0.2">6</text>
<line x1="365.2" y1="521.3" x2="365.2" y2="523.3" stroke="#b4b4b4" stroke-width="0.8"/>
<line x1="473.8" y1="521.3" x2="473.8" y2="523.3" stroke="#b4b4b4" stroke-width="0.8"/>
<text transform="translate(290,404.5) rotate(-90)" font-size="8.5" text-anchor="middle" textLength="105.6" lengthAdjust="spacingAndGlyphs" fill="#1a1a1a" stroke="#1a1a1a" stroke-width="0.15">Self-rated spiciness sensitivity</text>
<text x="334.1" y="530.4" font-size="8.7" textLength="62.8" lengthAdjust="spacingAndGlyphs" fill="#1a1a1a" stroke="#1a1a1a" stroke-width="0.22">Healthy controls</text>
<text x="457.4" y="530.4" font-size="8.7" textLength="32.1" lengthAdjust="spacingAndGlyphs" fill="#1a1a1a" stroke="#1a1a1a" stroke-width="0.22">Patients</text>
<text x="281.8" y="281.4" font-size="12" textLength="15.6" lengthAdjust="spacingAndGlyphs" fill="#000" stroke="#000" stroke-width="0.25">(D)</text>
<line x1="392" y1="310" x2="501.7" y2="310" stroke="#111" stroke-width="1.5"/>
<path d="M441.8,300.1 L441.8,304.7 M443.8,301.2 L439.8,303.5 M439.8,301.2 L443.8,303.5 " stroke="#1a1a1a" stroke-width="1.0" stroke-linecap="round"/>
<path d="M448,300.1 L448,304.7 M450,301.2 L446,303.5 M446,301.2 L450,303.5 " stroke="#1a1a1a" stroke-width="1.0" stroke-linecap="round"/>
<path d="M454.2,300.1 L454.2,304.7 M456.2,301.2 L452.2,303.5 M452.2,301.2 L456.2,303.5 " stroke="#1a1a1a" stroke-width="1.0" stroke-linecap="round"/>
<path d="M387.1,332.4 L410.2,332.4 L411.5,333.9 L412.7,335.4 L414,337 L415.2,338.5 L416.3,340 L417.4,341.5 L418.5,343.1 L419.6,344.6 L420.6,346.1 L421.6,347.6 L422.5,349.1 L423.4,350.7 L424.3,352.2 L425.1,353.7 L425.9,355.2 L426.7,356.8 L427.4,358.3 L428.1,359.8 L428.8,361.3 L429.4,362.8 L430,364.4 L430.6,365.9 L431.2,367.4 L431.7,368.9 L432.1,370.5 L432.6,372 L433,373.5 L433.4,375 L433.7,376.5 L434,378.1 L434.3,379.6 L434.6,381.1 L434.8,382.6 L435,384.2 L435.2,385.7 L435.3,387.2 L435.4,388.7 L435.5,390.2 L435.5,391.8 L435.6,393.3 L435.5,394.8 L435.5,396.3 L435.5,397.9 L435.4,399.4 L435.2,400.9 L435.1,402.4 L434.9,403.9 L434.7,405.5 L434.5,407 L434.3,408.5 L434,410 L433.7,411.6 L433.3,413.1 L433,414.6 L432.6,416.1 L432.2,417.6 L431.8,419.2 L431.3,420.7 L430.9,422.2 L430.4,423.7 L429.8,425.3 L429.3,426.8 L428.7,428.3 L428.1,429.8 L427.5,431.3 L426.9,432.9 L426.2,434.4 L425.6,435.9 L424.9,437.4 L424.2,439 L423.4,440.5 L422.7,442 L421.9,443.5 L421.2,445 L420.4,446.6 L419.6,448.1 L418.8,449.6 L418,451.1 L417.2,452.7 L416.4,454.2 L415.6,455.7 L414.7,457.2 L413.9,458.7 L413.1,460.3 L412.2,461.8 L411.4,463.3 L410.6,464.8 L409.8,466.4 L408.9,467.9 L408.1,469.4 L407.3,470.9 L406.5,472.4 L405.7,474 L404.9,475.5 L404.2,477 L403.4,478.5 L402.6,480.1 L401.9,481.6 L401.2,483.1 L400.5,484.6 L399.8,486.1 L399.1,487.7 L398.5,489.2 L397.8,490.7 L397.2,492.2 L396.6,493.8 L396.1,495.3 L395.5,496.8 L395,498.3 L394.5,499.8 L394.1,501.4 L393.7,502.9 L393.3,504.4 L392.9,505.9 L392.6,507.5 L392.2,509 L392,510.5 L387.1,510.5 Z" fill="#4b8cc1" stroke="#3b7fb3" stroke-width="0.7" stroke-linejoin="round"/>
<path d="M495.3,368 L512.2,368 L512.8,369.5 L513.5,371 L514.1,372.5 L514.8,374.1 L515.5,375.6 L516.2,377.1 L517,378.6 L517.7,380.1 L518.5,381.6 L519.2,383.2 L520,384.7 L520.8,386.2 L521.6,387.7 L522.3,389.2 L523.1,390.7 L523.9,392.3 L524.7,393.8 L525.5,395.3 L526.3,396.8 L527.1,398.3 L527.9,399.8 L528.7,401.4 L529.4,402.9 L530.2,404.4 L531,405.9 L531.7,407.4 L532.5,408.9 L533.2,410.4 L533.9,412 L534.6,413.5 L535.2,415 L535.9,416.5 L536.5,418 L537.2,419.5 L537.8,421.1 L538.3,422.6 L538.9,424.1 L539.4,425.6 L539.9,427.1 L540.4,428.6 L540.8,430.2 L541.2,431.7 L541.6,433.2 L541.9,434.7 L542.2,436.2 L542.5,437.7 L542.7,439.2 L542.9,440.8 L543,442.3 L543.2,443.8 L543.2,445.3 L543.3,446.8 L543.3,448.3 L543.2,449.9 L543.2,451.4 L543,452.9 L542.9,454.4 L542.7,455.9 L542.5,457.4 L542.2,459 L541.9,460.5 L541.6,462 L541.2,463.5 L540.8,465 L540.4,466.5 L539.9,468.1 L539.4,469.6 L538.9,471.1 L538.3,472.6 L537.7,474.1 L537.1,475.6 L536.5,477.1 L535.8,478.7 L535,480.2 L534.3,481.7 L533.5,483.2 L532.7,484.7 L531.8,486.2 L530.9,487.8 L530,489.3 L529.1,490.8 L528.2,492.3 L527.2,493.8 L526.2,495.3 L525.2,496.9 L524.2,498.4 L523.1,499.9 L522,501.4 L520.9,502.9 L519.8,504.4 L518.7,506 L517.6,507.5 L516.4,509 L515.3,510.5 L495.3,510.5 Z" fill="#ff6464" stroke="#f85050" stroke-width="0.7" stroke-linejoin="round"/>
<line x1="387.4" y1="332.6" x2="387.4" y2="368.2" stroke="rgba(40,40,40,0.22)" stroke-width="0.7"/>
<line x1="387.4" y1="439.3" x2="387.4" y2="510.4" stroke="rgba(40,40,40,0.22)" stroke-width="0.7"/>
<rect x="381.5" y="368.2" width="5.6" height="71.1" fill="#b7d1e8"/>
<rect x="387.1" y="368.2" width="5.6" height="71.1" fill="#1c7dbc"/>
<rect x="381.5" y="368.2" width="11.2" height="71.1" fill="none" stroke="rgba(60,60,60,0.35)" stroke-width="0.8"/>
<path d="M387.1,368.2 H392.7 V439.3 H387.1" fill="none" stroke="rgba(25,25,25,0.6)" stroke-width="0.8"/>
<line x1="381.5" y1="403.7" x2="392.7" y2="403.7" stroke="rgba(20,20,20,0.85)" stroke-width="0.9"/>
<line x1="495.6" y1="368.2" x2="495.6" y2="403.7" stroke="rgba(40,40,40,0.5)" stroke-width="0.7"/>
<line x1="495.6" y1="474.8" x2="495.6" y2="510.4" stroke="rgba(40,40,40,0.5)" stroke-width="0.7"/>
<rect x="489.7" y="403.7" width="5.6" height="71.1" fill="#ffb9b9"/>
<rect x="495.3" y="403.7" width="5.6" height="71.1" fill="#ff4a4c"/>
<rect x="489.7" y="403.7" width="11.2" height="71.1" fill="none" stroke="rgba(60,60,60,0.35)" stroke-width="0.8"/>
<path d="M495.3,403.7 H500.9 V474.8 H495.3" fill="none" stroke="rgba(25,25,25,0.6)" stroke-width="0.8"/>
<line x1="489.7" y1="439.3" x2="500.9" y2="439.3" stroke="rgba(20,20,20,0.85)" stroke-width="0.9"/>
<line x1="398.1" y1="400.9" x2="419.5" y2="400.9" stroke="rgba(15,20,30,0.72)" stroke-width="1"/>
<line x1="506.4" y1="441.3" x2="527.5" y2="441.3" stroke="rgba(15,20,30,0.72)" stroke-width="1"/>
<circle cx="354.2" cy="321.1" r="1.4" fill="#003a8c"/>
<circle cx="361.7" cy="319.4" r="1.4" fill="#003a8c"/>
<circle cx="369.9" cy="320.3" r="1.4" fill="#003a8c"/>
<circle cx="377.1" cy="323.5" r="1.4" fill="#003a8c"/>
<circle cx="353" cy="326.7" r="1.4" fill="#003a8c"/>
<circle cx="352" cy="330.3" r="1.4" fill="#003a8c"/>
<circle cx="379.5" cy="329.6" r="1.4" fill="#003a8c"/>
<circle cx="365" cy="333" r="1.4" fill="#003a8c"/>
<circle cx="368.1" cy="336" r="1.4" fill="#003a8c"/>
<circle cx="352.4" cy="335.6" r="1.4" fill="#003a8c"/>
<circle cx="376.9" cy="336" r="1.4" fill="#003a8c"/>
<circle cx="380.5" cy="335.6" r="1.4" fill="#003a8c"/>
<circle cx="375.3" cy="339.2" r="1.4" fill="#003a8c"/>
<circle cx="364.4" cy="342" r="1.4" fill="#003a8c"/>
<circle cx="368.9" cy="346.2" r="1.4" fill="#003a8c"/>
<circle cx="351.1" cy="355.7" r="1.4" fill="#003a8c"/>
<circle cx="353.6" cy="355.7" r="1.4" fill="#003a8c"/>
<circle cx="353" cy="358.1" r="1.4" fill="#003a8c"/>
<circle cx="361.2" cy="354.5" r="1.4" fill="#003a8c"/>
<circle cx="362.4" cy="356.9" r="1.4" fill="#003a8c"/>
<circle cx="368.7" cy="356.9" r="1.4" fill="#003a8c"/>
<circle cx="371.1" cy="355.9" r="1.4" fill="#003a8c"/>
<circle cx="374.7" cy="355.3" r="1.4" fill="#003a8c"/>
<circle cx="376.2" cy="356.2" r="1.4" fill="#003a8c"/>
<circle cx="351.7" cy="362" r="1.4" fill="#003a8c"/>
<circle cx="352.4" cy="365.8" r="1.4" fill="#003a8c"/>
<circle cx="368.7" cy="363.2" r="1.4" fill="#003a8c"/>
<circle cx="368.9" cy="365.8" r="1.4" fill="#003a8c"/>
<circle cx="373.5" cy="366.2" r="1.4" fill="#003a8c"/>
<circle cx="376.5" cy="364.4" r="1.4" fill="#003a8c"/>
<circle cx="374.9" cy="368.2" r="1.4" fill="#003a8c"/>
<circle cx="380.1" cy="365.6" r="1.4" fill="#003a8c"/>
<circle cx="356" cy="369.8" r="1.4" fill="#003a8c"/>
<circle cx="359" cy="369.2" r="1.4" fill="#003a8c"/>
<circle cx="361.4" cy="368.6" r="1.4" fill="#003a8c"/>
<circle cx="349.3" cy="373.4" r="1.4" fill="#003a8c"/>
<circle cx="352.4" cy="372.8" r="1.4" fill="#003a8c"/>
<circle cx="362.4" cy="373.1" r="1.4" fill="#003a8c"/>
<circle cx="370.5" cy="372.2" r="1.4" fill="#003a8c"/>
<circle cx="357.8" cy="376.2" r="1.4" fill="#003a8c"/>
<circle cx="358" cy="378.4" r="1.4" fill="#003a8c"/>
<circle cx="350.5" cy="379.8" r="1.4" fill="#003a8c"/>
<circle cx="365.6" cy="377.7" r="1.4" fill="#003a8c"/>
<circle cx="366.2" cy="380.1" r="1.4" fill="#003a8c"/>
<circle cx="369.9" cy="380.4" r="1.4" fill="#003a8c"/>
<circle cx="372.9" cy="381.6" r="1.4" fill="#003a8c"/>
<circle cx="375.9" cy="376.8" r="1.4" fill="#003a8c"/>
<circle cx="377.7" cy="379.2" r="1.4" fill="#003a8c"/>
<circle cx="349.3" cy="391.3" r="1.4" fill="#003a8c"/>
<circle cx="349.6" cy="392.9" r="1.4" fill="#003a8c"/>
<circle cx="352.7" cy="390.5" r="1.4" fill="#003a8c"/>
<circle cx="355.4" cy="394.3" r="1.4" fill="#003a8c"/>
<circle cx="357.8" cy="396.5" r="1.4" fill="#003a8c"/>
<circle cx="362.6" cy="391.9" r="1.4" fill="#003a8c"/>
<circle cx="366.8" cy="394.6" r="1.4" fill="#003a8c"/>
<circle cx="373.7" cy="393.1" r="1.4" fill="#003a8c"/>
<circle cx="377.7" cy="389.5" r="1.4" fill="#003a8c"/>
<circle cx="379.5" cy="391.9" r="1.4" fill="#003a8c"/>
<circle cx="350.5" cy="398" r="1.4" fill="#003a8c"/>
<circle cx="349.9" cy="399.2" r="1.4" fill="#003a8c"/>
<circle cx="361.7" cy="399.8" r="1.4" fill="#003a8c"/>
<circle cx="371.7" cy="400.4" r="1.4" fill="#003a8c"/>
<circle cx="379.3" cy="398" r="1.4" fill="#003a8c"/>
<circle cx="349.3" cy="405.2" r="1.4" fill="#003a8c"/>
<circle cx="351.5" cy="404.6" r="1.4" fill="#003a8c"/>
<circle cx="365" cy="404.2" r="1.4" fill="#003a8c"/>
<circle cx="366" cy="407.4" r="1.4" fill="#003a8c"/>
<circle cx="368.1" cy="407" r="1.4" fill="#003a8c"/>
<circle cx="375.3" cy="406.4" r="1.4" fill="#003a8c"/>
<circle cx="349.9" cy="409.1" r="1.4" fill="#003a8c"/>
<circle cx="360" cy="408.8" r="1.4" fill="#003a8c"/>
<circle cx="357.8" cy="411.2" r="1.4" fill="#003a8c"/>
<circle cx="351.5" cy="413.9" r="1.4" fill="#003a8c"/>
<circle cx="358" cy="414.6" r="1.4" fill="#003a8c"/>
<circle cx="363.6" cy="413.7" r="1.4" fill="#003a8c"/>
<circle cx="363.2" cy="416.1" r="1.4" fill="#003a8c"/>
<circle cx="366.8" cy="417.3" r="1.4" fill="#003a8c"/>
<circle cx="369.3" cy="416.3" r="1.4" fill="#003a8c"/>
<circle cx="371.7" cy="416.7" r="1.4" fill="#003a8c"/>
<circle cx="375.9" cy="415.8" r="1.4" fill="#003a8c"/>
<circle cx="379.3" cy="411.2" r="1.4" fill="#003a8c"/>
<circle cx="352.4" cy="426.7" r="1.4" fill="#003a8c"/>
<circle cx="359.6" cy="428.2" r="1.4" fill="#003a8c"/>
<circle cx="361.7" cy="426.7" r="1.4" fill="#003a8c"/>
<circle cx="372.9" cy="429.1" r="1.4" fill="#003a8c"/>
<circle cx="356.3" cy="430.8" r="1.4" fill="#003a8c"/>
<circle cx="356.8" cy="432.8" r="1.4" fill="#003a8c"/>
<circle cx="367.5" cy="434.2" r="1.4" fill="#003a8c"/>
<circle cx="370.8" cy="433.2" r="1.4" fill="#003a8c"/>
<circle cx="378.3" cy="433" r="1.4" fill="#003a8c"/>
<circle cx="380.1" cy="431.8" r="1.4" fill="#003a8c"/>
<circle cx="354.2" cy="436.4" r="1.4" fill="#003a8c"/>
<circle cx="358.4" cy="436.4" r="1.4" fill="#003a8c"/>
<circle cx="363.2" cy="438.4" r="1.4" fill="#003a8c"/>
<circle cx="368.7" cy="439" r="1.4" fill="#003a8c"/>
<circle cx="354.1" cy="442.7" r="1.4" fill="#003a8c"/>
<circle cx="360.9" cy="441.5" r="1.4" fill="#003a8c"/>
<circle cx="365" cy="442.7" r="1.4" fill="#003a8c"/>
<circle cx="369" cy="440.7" r="1.4" fill="#003a8c"/>
<circle cx="363.5" cy="445.2" r="1.4" fill="#003a8c"/>
<circle cx="367.2" cy="444.2" r="1.4" fill="#003a8c"/>
<circle cx="379.8" cy="441.8" r="1.4" fill="#003a8c"/>
<circle cx="379.1" cy="443.3" r="1.4" fill="#003a8c"/>
<circle cx="353.5" cy="447.4" r="1.4" fill="#003a8c"/>
<circle cx="362.4" cy="448.2" r="1.4" fill="#003a8c"/>
<circle cx="377.6" cy="448.6" r="1.4" fill="#003a8c"/>
<circle cx="351.1" cy="451.2" r="1.4" fill="#003a8c"/>
<circle cx="354.5" cy="452.6" r="1.4" fill="#003a8c"/>
<circle cx="366.4" cy="452.2" r="1.4" fill="#003a8c"/>
<circle cx="368.4" cy="451.2" r="1.4" fill="#003a8c"/>
<circle cx="366.9" cy="460.8" r="1.4" fill="#003a8c"/>
<circle cx="374.3" cy="463.1" r="1.4" fill="#003a8c"/>
<circle cx="361.2" cy="465.6" r="1.4" fill="#003a8c"/>
<circle cx="372.4" cy="468.6" r="1.4" fill="#003a8c"/>
<circle cx="377.9" cy="467.1" r="1.4" fill="#003a8c"/>
<circle cx="349.3" cy="476" r="1.4" fill="#003a8c"/>
<circle cx="370.2" cy="475.4" r="1.4" fill="#003a8c"/>
<circle cx="365.4" cy="480.2" r="1.4" fill="#003a8c"/>
<circle cx="371.6" cy="482.4" r="1.4" fill="#003a8c"/>
<circle cx="358.3" cy="484.9" r="1.4" fill="#003a8c"/>
<circle cx="366.4" cy="485.4" r="1.4" fill="#003a8c"/>
<circle cx="372.8" cy="487.3" r="1.4" fill="#003a8c"/>
<circle cx="377.9" cy="484.6" r="1.4" fill="#003a8c"/>
<circle cx="487.5" cy="354.8" r="1.4" fill="#ee0000"/>
<circle cx="464.1" cy="358.5" r="1.4" fill="#ee0000"/>
<circle cx="468.2" cy="361.1" r="1.4" fill="#ee0000"/>
<circle cx="488.7" cy="361.6" r="1.4" fill="#ee0000"/>
<circle cx="475.2" cy="373.8" r="1.4" fill="#ee0000"/>
<circle cx="487.2" cy="379.4" r="1.4" fill="#ee0000"/>
<circle cx="462" cy="389.7" r="1.4" fill="#ee0000"/>
<circle cx="479.4" cy="395.7" r="1.4" fill="#ee0000"/>
<circle cx="487.2" cy="400" r="1.4" fill="#ee0000"/>
<circle cx="483.8" cy="405" r="1.4" fill="#ee0000"/>
<circle cx="457.5" cy="407.6" r="1.4" fill="#ee0000"/>
<circle cx="479.8" cy="412.7" r="1.4" fill="#ee0000"/>
<circle cx="476.1" cy="415.3" r="1.4" fill="#ee0000"/>
<circle cx="472.4" cy="415.6" r="1.4" fill="#ee0000"/>
<circle cx="473.4" cy="416.1" r="1.4" fill="#ee0000"/>
<circle cx="473.4" cy="425.4" r="1.4" fill="#ee0000"/>
<circle cx="463.8" cy="428.4" r="1.4" fill="#ee0000"/>
<circle cx="466.4" cy="428.7" r="1.4" fill="#ee0000"/>
<circle cx="489.3" cy="425.4" r="1.4" fill="#ee0000"/>
<circle cx="488.7" cy="428.7" r="1.4" fill="#ee0000"/>
<circle cx="480.7" cy="435.1" r="1.4" fill="#ee0000"/>
<circle cx="462.9" cy="438.7" r="1.4" fill="#ee0000"/>
<circle cx="467.6" cy="439.2" r="1.4" fill="#ee0000"/>
<circle cx="468.7" cy="437.6" r="1.4" fill="#ee0000"/>
<circle cx="485" cy="439.5" r="1.4" fill="#ee0000"/>
<circle cx="489.3" cy="438.2" r="1.4" fill="#ee0000"/>
<circle cx="489.7" cy="441.8" r="1.4" fill="#ee0000"/>
<circle cx="472.8" cy="442.6" r="1.4" fill="#ee0000"/>
<circle cx="475.1" cy="443.4" r="1.4" fill="#ee0000"/>
<circle cx="481.4" cy="442.9" r="1.4" fill="#ee0000"/>
<circle cx="482.9" cy="443.4" r="1.4" fill="#ee0000"/>
<circle cx="480.7" cy="445.8" r="1.4" fill="#ee0000"/>
<circle cx="481.4" cy="447.1" r="1.4" fill="#ee0000"/>
<circle cx="487.7" cy="445.5" r="1.4" fill="#ee0000"/>
<circle cx="463.4" cy="451.8" r="1.4" fill="#ee0000"/>
<circle cx="485" cy="460.8" r="1.4" fill="#ee0000"/>
<circle cx="485.5" cy="463.5" r="1.4" fill="#ee0000"/>
<circle cx="469.2" cy="465.5" r="1.4" fill="#ee0000"/>
<circle cx="489.3" cy="468.2" r="1.4" fill="#ee0000"/>
<circle cx="462.9" cy="472.6" r="1.4" fill="#ee0000"/>
<circle cx="469.2" cy="471.8" r="1.4" fill="#ee0000"/>
<circle cx="475.5" cy="472.6" r="1.4" fill="#ee0000"/>
<circle cx="480.7" cy="471.4" r="1.4" fill="#ee0000"/>
<circle cx="488.2" cy="472.9" r="1.4" fill="#ee0000"/>
<circle cx="459.7" cy="476.1" r="1.4" fill="#ee0000"/>
<circle cx="472.8" cy="475.5" r="1.4" fill="#ee0000"/>
<circle cx="473.2" cy="477.1" r="1.4" fill="#ee0000"/>
<circle cx="457.7" cy="480.2" r="1.4" fill="#ee0000"/>
<circle cx="458.2" cy="481.3" r="1.4" fill="#ee0000"/>
<circle cx="477.9" cy="484.5" r="1.4" fill="#ee0000"/>
<circle cx="467.6" cy="486.5" r="1.4" fill="#ee0000"/>
<circle cx="468.7" cy="485.6" r="1.4" fill="#ee0000"/>
<circle cx="457.7" cy="503.4" r="1.4" fill="#ee0000"/>
<circle cx="478.2" cy="506.1" r="1.4" fill="#ee0000"/>
<circle cx="486.1" cy="508.5" r="1.4" fill="#ee0000"/>
</svg></div></body></html>
